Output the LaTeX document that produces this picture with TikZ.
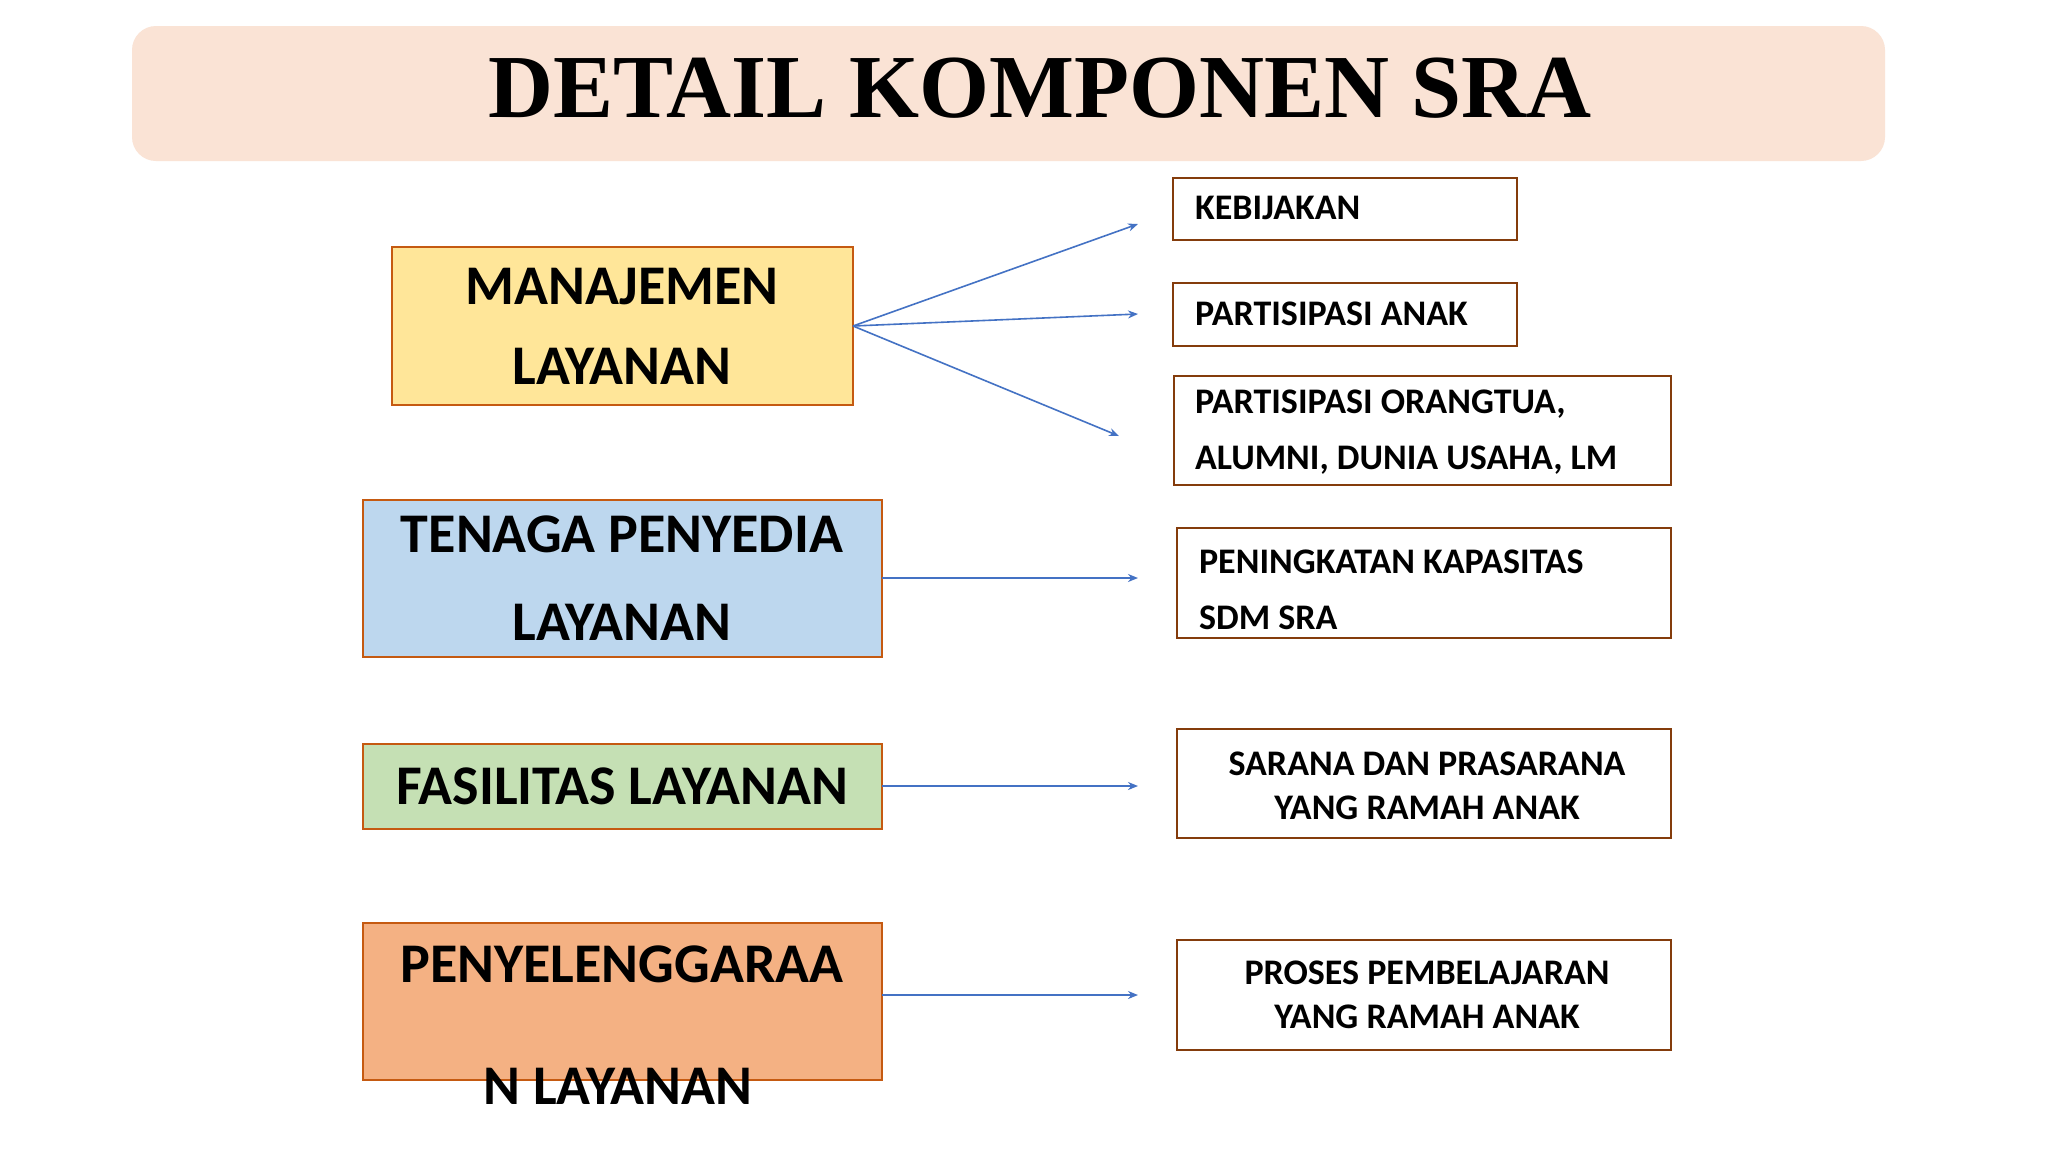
\documentclass[tikz,border=0pt]{standalone}
\usepackage{fontspec}
\setmainfont{Carlito}
\newfontfamily\titlefont{Liberation Serif}
\usetikzlibrary{arrows.meta}
\definecolor{titlebg}{HTML}{FAE3D5}
\definecolor{yel}{HTML}{FFE699}
\definecolor{blu}{HTML}{BDD7EE}
\definecolor{grn}{HTML}{C5E0B4}
\definecolor{org}{HTML}{F4B183}
\definecolor{obord}{HTML}{C55A11}
\definecolor{rbord}{HTML}{843C0C}
\definecolor{arr}{HTML}{4472C4}
\begin{document}
\begin{tikzpicture}[x=0.5pt,y=-0.5pt,
  lbox/.style={draw=obord,line width=1pt},
  rbox/.style={draw=rbord,line width=0.8pt},
  ltext/.style={font=\bfseries\fontsize{28}{34}\selectfont},
  rtext/.style={font=\bfseries\fontsize{18}{22}\selectfont},
  conn/.style={draw=arr,line width=0.8pt,-{Stealth[length=5pt,width=4pt]}}]
\useasboundingbox (0,0) rectangle (2048,1152);
\fill[white] (0,0) rectangle (2048,1152);
\fill[titlebg,rounded corners=12pt] (132,26) rectangle (1885,161);
\node[font=\titlefont\bfseries\fontsize{45}{50}\selectfont] (title) at (1040,88) {DETAIL KOMPONEN SRA};
% left boxes
\draw[lbox,fill=yel] (392,247) rectangle (853,405);
\node[ltext,align=center] (man) at (622,326) {MANAJEMEN\\[6pt]LAYANAN};
\draw[lbox,fill=blu] (363,500) rectangle (882,657);
\node[ltext,align=center] (ten) at (622,578) {TENAGA PENYEDIA\\[10pt]LAYANAN};
\draw[lbox,fill=grn] (363,744) rectangle (882,829);
\node[ltext] (fas) at (622,786) {FASILITAS LAYANAN};
\draw[lbox,fill=org] (363,923) rectangle (882,1080);
\node[ltext] (pen1) at (622,964) {PENYELENGGARAA};
\node[ltext] (pen2) at (618,1086) {N LAYANAN};
% right boxes
\draw[rbox] (1173,178) rectangle (1517,240);
\node[rtext,anchor=west] (keb) at (1188,208) {KEBIJAKAN};
\draw[rbox] (1173,283) rectangle (1517,346);
\node[rtext,anchor=west] (par) at (1188,314) {PARTISIPASI ANAK};
\draw[rbox] (1174,376) rectangle (1671,485);
\node[rtext,anchor=west,align=left] (ort) at (1188,432) {PARTISIPASI ORANGTUA,\\[6pt]ALUMNI, DUNIA USAHA, LM};
\draw[rbox] (1177,528) rectangle (1671,638);
\node[rtext,anchor=west,align=left] (sdm) at (1192,590) {PENINGKATAN KAPASITAS\\[6pt]SDM SRA};
\draw[rbox] (1177,729) rectangle (1671,838);
\node[rtext,align=center] (sar) at (1427,786) {SARANA DAN PRASARANA\\YANG RAMAH ANAK};
\draw[rbox] (1177,940) rectangle (1671,1050);
\node[rtext,align=center] (pro) at (1427,995) {PROSES PEMBELAJARAN\\YANG RAMAH ANAK};
% connectors
\coordinate (ms) at (853,326);
\coordinate (e1) at (1138,224);
\coordinate (e2) at (1138,314);
\coordinate (e3) at (1119,436);
\coordinate (ts) at (882,578); \coordinate (te) at (1138,578);
\coordinate (fs) at (882,786); \coordinate (fe) at (1138,786);
\coordinate (ps) at (882,995); \coordinate (pe) at (1138,995);
\draw[conn] (ms) -- (e1);
\draw[conn] (ms) -- (e2);
\draw[conn] (ms) -- (e3);
\draw[conn] (ts) -- (te);
\draw[conn] (fs) -- (fe);
\draw[conn] (ps) -- (pe);
\end{tikzpicture}
\end{document}
